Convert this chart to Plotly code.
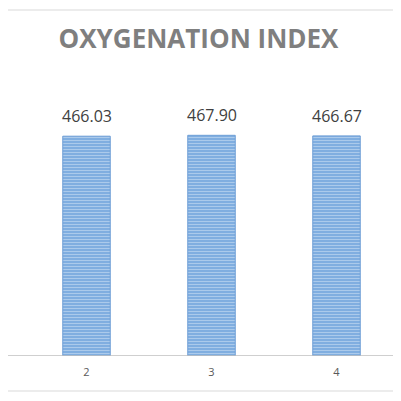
"""Oxygenation index bar chart (Excel-style striped bars)."""

import plotly.graph_objects as go

# data
categories = [2, 3, 4]
values = [466.03, 467.90, 466.67]
value_labels = ["466.03", "467.90", "466.67"]
title_text = "OXYGENATION INDEX"

BAR_FILL = "#80AEE0"
STRIPE = "#D6E5F6"
EDGE = "#6F9FD6"

# the page body adds an 8px margin, so the figure is 393px and shifted
W = H = 393
TOP, BOTTOM = 65, 45  # plot area spans 65..348 in figure px
PLOT_H = H - TOP - BOTTOM

fig = go.Figure()
fig.add_trace(
    go.Bar(
        x=categories,
        y=values,
        width=0.38,
        marker=dict(
            color=BAR_FILL,
            line=dict(color=EDGE, width=1),
            pattern=dict(shape="-", fgcolor=STRIPE, bgcolor=BAR_FILL, size=3, solidity=0.35),
        ),
        hoverinfo="skip",
    )
)

# value labels above the bars
for cat, val, lab in zip(categories, values, value_labels):
    fig.add_annotation(
        x=cat, y=val, text=lab, showarrow=False,
        yanchor="bottom", yshift=7,
        font=dict(family="Open Sans", size=16, color="#404040"),
    )

fig.update_layout(
    width=W,
    height=H,
    margin=dict(l=0, r=0, t=TOP, b=BOTTOM),
    paper_bgcolor="white",
    plot_bgcolor="white",
    showlegend=False,
    title=dict(
        text=title_text,
        x=0.5 - 6 / W, xanchor="center",
        y=1 - 31 / H, yref="container", yanchor="middle",
        font=dict(family="Open Sans", size=26, color="#7F7F7F", weight="bold"),
    ),
    xaxis=dict(
        range=[1.372, 4.516],
        tickmode="array",
        tickvals=categories,
        ticktext=[str(c) for c in categories],
        showgrid=False,
        zeroline=False,
        showline=False,
        ticks="",
        ticklabelstandoff=8,
        tickfont=dict(family="Open Sans", size=11, color="#595959"),
    ),
    yaxis=dict(
        range=[0, 600],
        visible=False,
        showgrid=False,
    ),
)

# baseline and the chart frame edges
fig.add_shape(type="line", xref="paper", yref="y", x0=0, x1=1, y0=0, y1=0,
              line=dict(color="#BFBFBF", width=1.5))
fig.add_shape(type="line", xref="paper", yref="paper", x0=0, x1=1,
              y0=1 + (TOP - 2) / PLOT_H, y1=1 + (TOP - 2) / PLOT_H,
              line=dict(color="#D9D9D9", width=1))
fig.add_shape(type="line", xref="paper", yref="paper", x0=0, x1=1,
              y0=-35 / PLOT_H, y1=-35 / PLOT_H,
              line=dict(color="#D9D9D9", width=1))

fig.write_html("out.html")
